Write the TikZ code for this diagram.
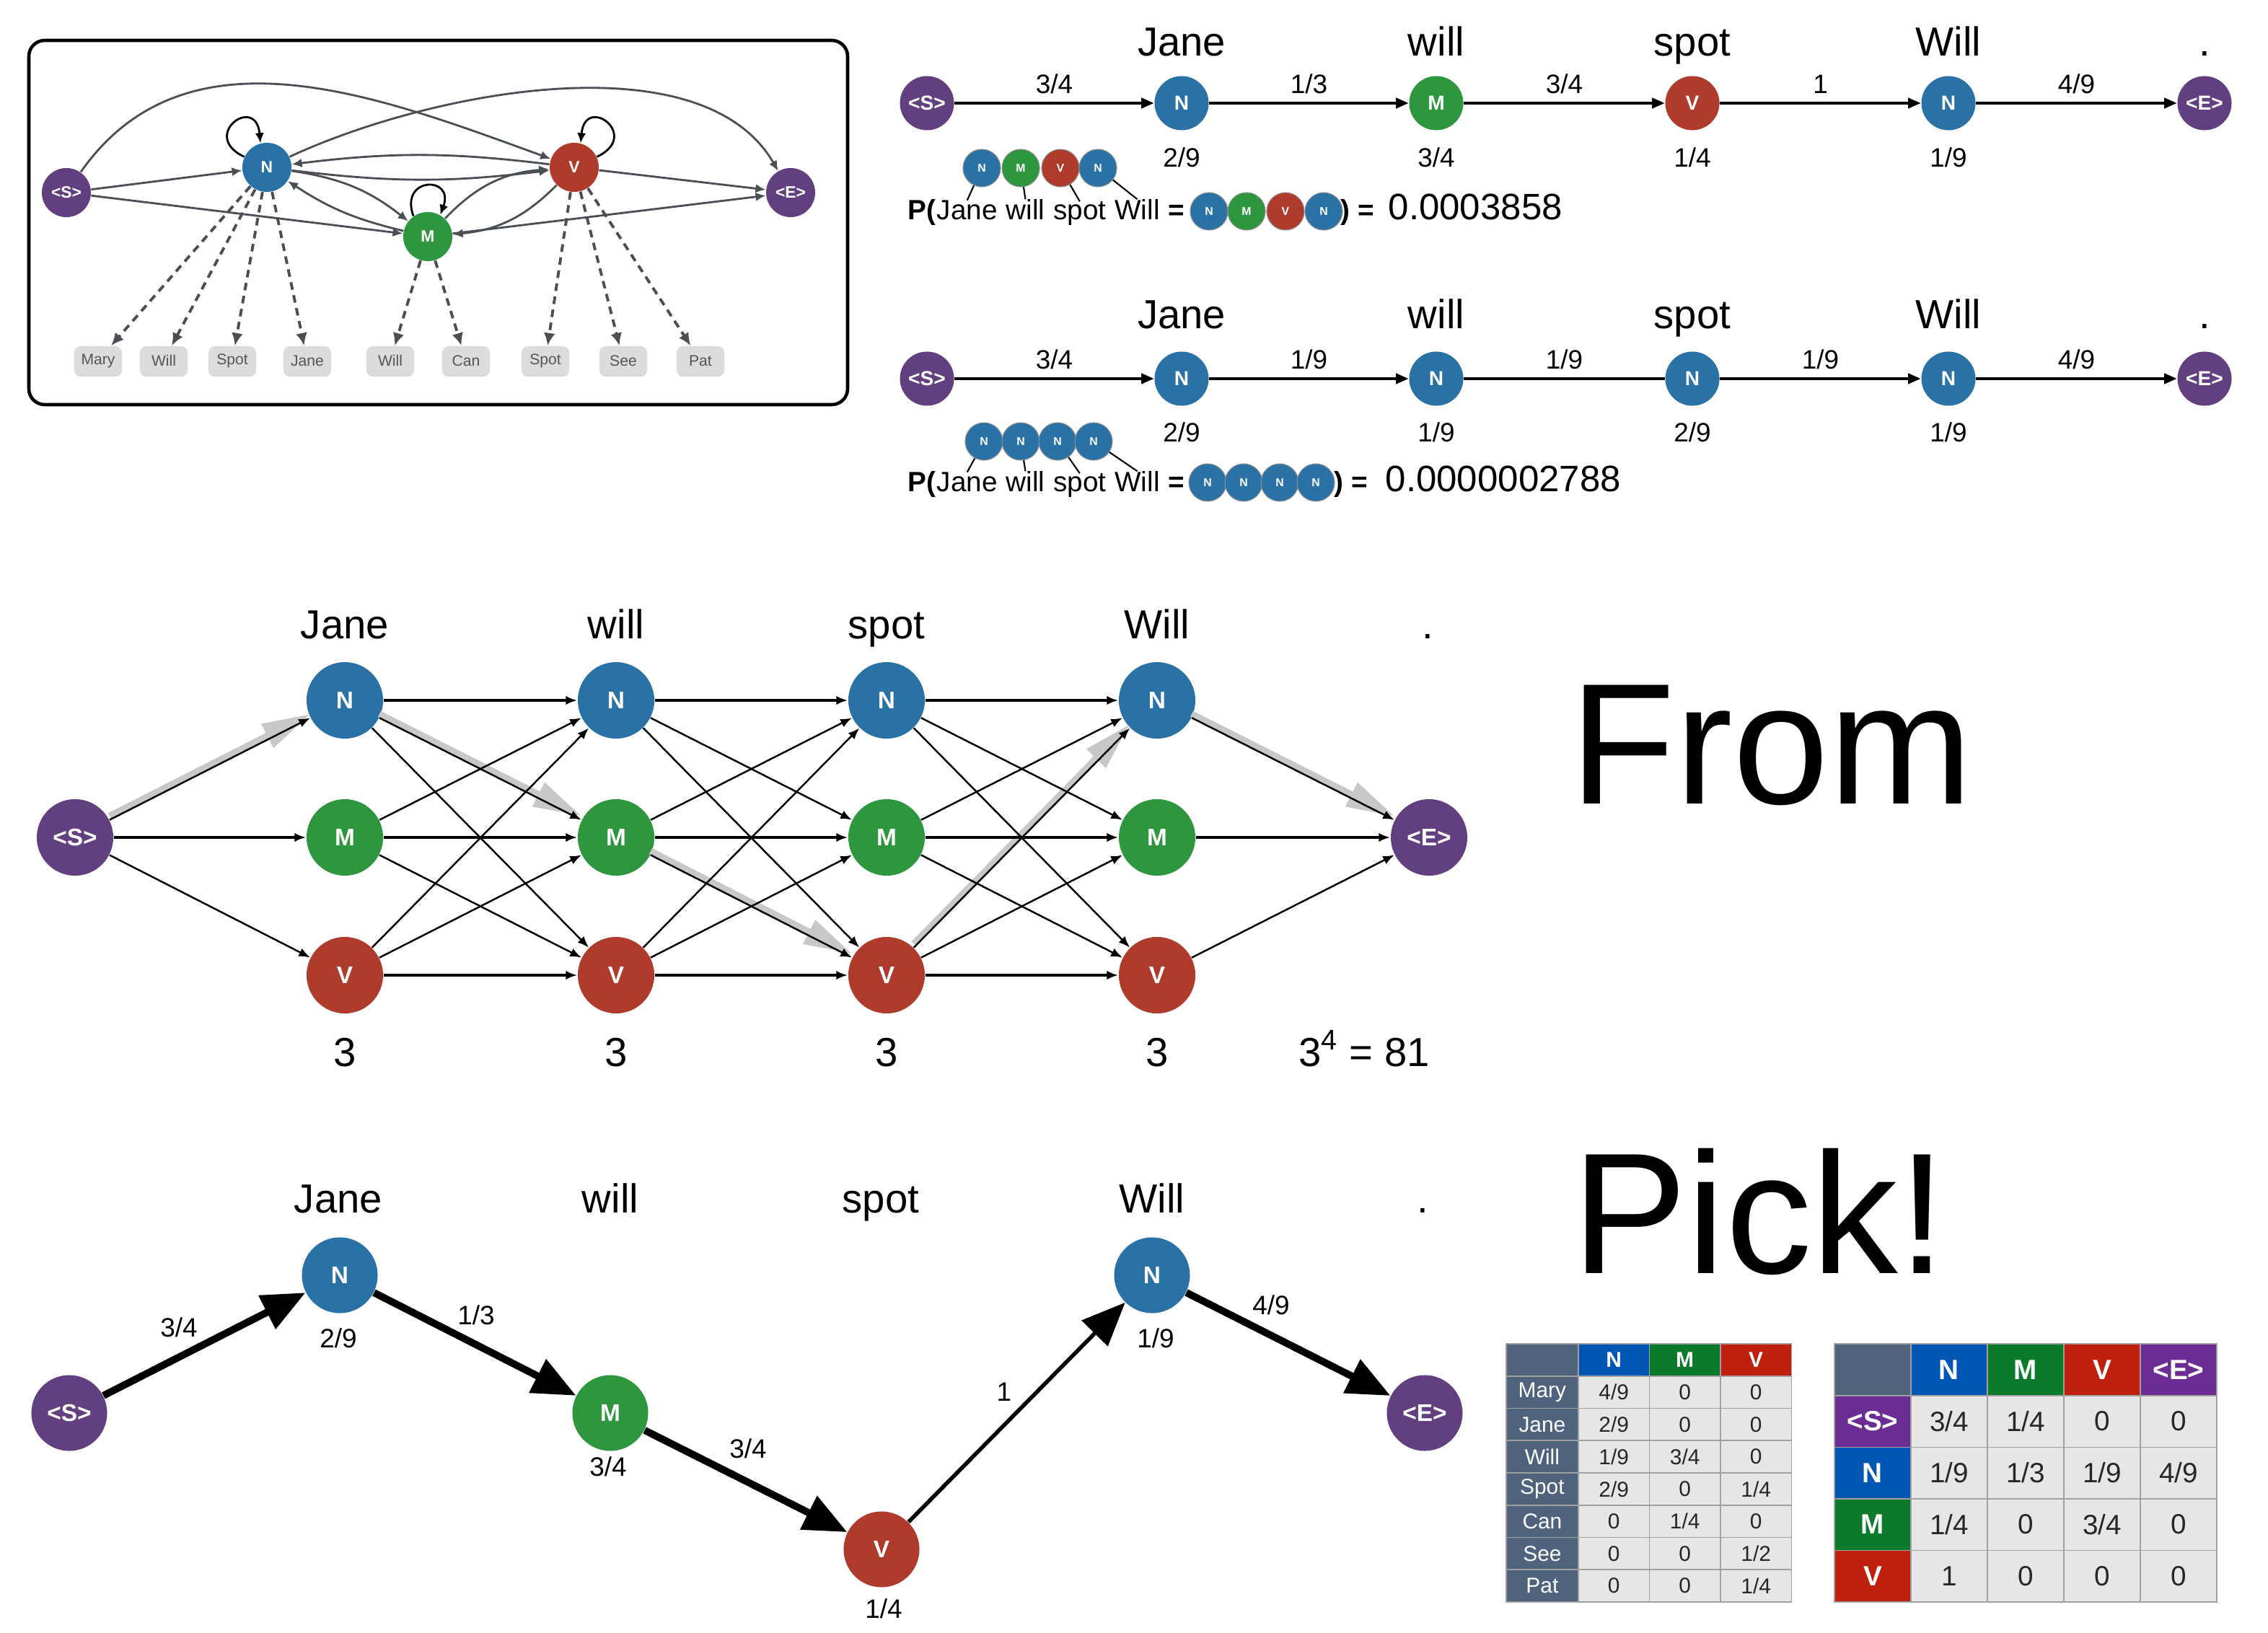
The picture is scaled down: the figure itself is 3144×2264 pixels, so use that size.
\documentclass[tikz,border=0pt]{standalone}
\usepackage{fontspec}
\setmainfont{Liberation Sans}
\usetikzlibrary{arrows.meta,positioning,shadows}

\definecolor{nblue}{RGB}{42,114,166}
\definecolor{mgreen}{RGB}{46,150,63}
\definecolor{vred}{RGB}{174,59,44}
\definecolor{epurple}{RGB}{98,64,127}
\definecolor{edgegray}{RGB}{74,79,85}
\definecolor{boxgray}{RGB}{220,220,220}
\definecolor{boxtext}{RGB}{85,85,85}
\definecolor{bestgray}{RGB}{200,200,200}
\definecolor{tslate}{RGB}{80,99,125}
\definecolor{tblue}{RGB}{0,86,179}
\definecolor{tgreen}{RGB}{11,122,43}
\definecolor{tred}{RGB}{191,32,13}
\definecolor{tpurple}{RGB}{107,45,147}
\definecolor{cellgray}{RGB}{230,230,230}
\definecolor{gridgray}{RGB}{160,160,160}

\tikzset{
  tag/.style={circle, inner sep=0pt, text=white, font=\bfseries},
  tagN/.style={tag, fill=nblue},
  tagM/.style={tag, fill=mgreen},
  tagV/.style={tag, fill=vred},
  tagSE/.style={tag, fill=epurple},
  word/.style={anchor=base, font=\fontsize{16}{18}\selectfont},
  prob/.style={anchor=base, font=\fontsize{10.5}{12}\selectfont},
  wordbox/.style={rectangle, rounded corners=2.5pt, fill=boxgray, text=boxtext,
    minimum width=0.66cm, minimum height=0.4cm, inner sep=1pt,
    font=\fontsize{6}{7}\selectfont,
    drop shadow={shadow xshift=0pt, shadow yshift=-0.6pt, opacity=0.3}},
  trans/.style={draw=edgegray, line width=0.8pt, -{Latex[length=4pt,width=3.5pt]}},
  emit/.style={draw=edgegray, line width=1.1pt, dash pattern=on 3pt off 2.2pt,
    -{Latex[length=5pt,width=4.5pt]}},
  selfloop/.style={draw=black, line width=0.8pt, -{Latex[length=4pt,width=3.5pt]}},
  chainedge/.style={draw=black, line width=1.1pt, -{Triangle[length=5pt,width=4pt]}},
  edgelab/.style={anchor=base, yshift=0.13cm, font=\fontsize{10.5}{12}\selectfont},
  fword/.style={anchor=base west, inner sep=0pt, font=\fontsize{11}{13}\selectfont},
  fnum/.style={anchor=base west, inner sep=0pt, font=\fontsize{14.5}{16}\selectfont},
  balltie/.style={draw=black, line width=0.6pt},
  tedge/.style={draw=black, line width=0.7pt, -{Latex[length=4.5pt,width=3.5pt]}},
  tflat/.style={tedge, line width=1.1pt},
  best/.style={draw=bestgray, line width=2.6pt, -{Triangle[length=19pt,width=10pt]}},
  pick/.style={draw=black, line width=0.1cm, -{Triangle[length=0.6cm,width=0.5cm]}},
  big/.style={anchor=base west, font=\fontsize{68}{70}\selectfont},
  tcell/.style={rectangle, anchor=north west, inner sep=0pt, draw=gridgray,
    line width=0.5pt, fill=cellgray, text=black!85},
  theadA/.style={tcell, minimum width=0.985cm, minimum height=0.45cm, text=white,
    font=\bfseries\fontsize{8.5}{10}\selectfont},
  tlabA/.style={tcell, fill=tslate, text=white, minimum width=1cm, minimum height=0.447cm,
    font=\fontsize{8.5}{10}\selectfont},
  tcellA/.style={tcell, minimum width=0.985cm, minimum height=0.447cm,
    font=\fontsize{8.5}{10}\selectfont},
  theadB/.style={tcell, minimum width=1.06cm, minimum height=0.72cm, text=white,
    font=\bfseries\fontsize{11}{13}\selectfont},
  tcellB/.style={tcell, minimum width=1.06cm, minimum height=0.715cm,
    font=\fontsize{11}{13}\selectfont}
}

\begin{document}
\begin{tikzpicture}[x=0.01cm, y=0.01cm]
\path[use as bounding box, fill=white] (0,0) rectangle (3144,-2264);

% the tag graph in its frame
\draw[line width=1.3pt, rounded corners=0.22cm] (40,-56) rectangle (1175,-561);
\begin{scope}[tag/.append style={minimum size=0.68cm, font=\bfseries\fontsize{6.5}{7}\selectfont}]
  \node[tagSE] (sS) at (92,-267) {<S>};
  \node[tagN] (sN) at (370,-232) {N};
  \node[tagM] (sM) at (593,-328) {M};
  \node[tagV] (sV) at (796,-232) {V};
  \node[tagSE] (sE) at (1096,-267) {<E>};
  \foreach \x/\w [count=\i] in {136/Mary,227/Will,322/Spot,426/Jane,541/Will,646/Can,756/Spot,864/See,971/Pat}
    \node[wordbox] (w\i) at (\x,-500) {\w};
  % emissions
  \foreach \s/\d in {sN/1,sN/2,sN/3,sN/4,sM/5,sM/6,sV/7,sV/8,sV/9}
    \draw[emit] (\s) -- (w\d);
  % transitions
  \draw[trans] (sS) -- (sN);
  \draw[trans] (sS) -- (sM);
  \draw[trans] (sS) to[out=55,in=160] (sV);
  \draw[trans] (sN) to[out=25,in=120,looseness=0.8] (sE);
  \draw[trans] (sN) to[bend right=7] (sV);
  \draw[trans] (sV) to[bend right=7] (sN);
  \draw[trans] (sN) to[bend left=15] (sM);
  \draw[trans] (sM) to[bend left=10] (sN);
  \draw[trans] (sM) to[bend left=21] (sV);
  \draw[trans] (sV) to[bend left=20] (sM);
  \draw[trans] (sM) -- (sE);
  \draw[trans] (sV) -- (sE);
  \draw[selfloop] (sN.155) to[out=155,in=95,looseness=6] (sN.105);
  \draw[selfloop] (sM.125) to[out=110,in=70,looseness=4] (sM.60);
  \draw[selfloop] (sV.25) to[out=25,in=85,looseness=6] (sV.75);
\end{scope}

% first tag sequence
\begin{scope}[tag/.append style={minimum size=0.75cm, font=\bfseries\fontsize{8}{9}\selectfont}]
  \foreach \x/\t/\s [count=\i from 0] in {1285/<S>/tagSE,1638/N/tagN,1991/M/tagM,2346/V/tagV,2701/N/tagN,3056/<E>/tagSE}
    \node[\s] (a\i) at (\x,-143) {\t};
  \foreach \x/\w [count=\i] in {1638/Jane,1991/will,2346/spot,2701/Will,3056/.}
    \node[word] (aw\i) at (\x,-78) {\w};
  \foreach \i/\j/\p in {0/1/{3/4},1/2/{1/3},2/3/{3/4},3/4/1,4/5/{4/9}}
    \draw[chainedge] (a\i) -- node[edgelab] (al\j) {\p} (a\j);
  \foreach \x/\p [count=\i] in {1638/{2/9},1991/{3/4},2346/{1/4},2701/{1/9}}
    \node[prob] (ae\i) at (\x,-232) {\p};
\end{scope}
\begin{scope}[tag/.append style={minimum size=0.52cm, draw=black!45, line width=0.3pt, font=\bfseries\fontsize{4.5}{5}\selectfont}]
  \foreach \x/\t/\s [count=\i] in {1361/N/tagN,1415/M/tagM,1470/V/tagV,1522/N/tagN}
    \node[\s] (ak\i) at (\x,-233) {\t};
  \foreach \x/\t/\s [count=\i] in {1676/N/tagN,1728/M/tagM,1782/V/tagV,1835/N/tagN}
    \node[\s] (af\i) at (\x,-293) {\t};
\end{scope}
\node[fword] (ap0) at (1258,-305) {\textbf{P(}};
\foreach \w/\g [count=\i, evaluate=\i as \k using int(\i-1)] in {Jane/0pt,will/3pt,spot/3pt,Will/3pt,\textbf{=}/3pt}
  \node[fword, xshift=\g] (ap\i) at (ap\k.base east) {\w};
\foreach \i in {1,...,4}
  \draw[balltie] (ak\i) -- (ap\i.north);
\node[fword] (apc) at (1858,-305) {\textbf{) =}};
\node[fnum] (apv) at (1924,-305) {0.0003858};

% second tag sequence
\begin{scope}[tag/.append style={minimum size=0.75cm, font=\bfseries\fontsize{8}{9}\selectfont}]
  \foreach \x/\t/\s [count=\i from 0] in {1285/<S>/tagSE,1638/N/tagN,1991/N/tagN,2346/N/tagN,2701/N/tagN,3056/<E>/tagSE}
    \node[\s] (b\i) at (\x,-525) {\t};
  \foreach \x/\w [count=\i] in {1638/Jane,1991/will,2346/spot,2701/Will,3056/.}
    \node[word] (bw\i) at (\x,-456) {\w};
  \foreach \i/\j/\p in {0/1/{3/4},1/2/{1/9},3/4/{1/9},4/5/{4/9}}
    \draw[chainedge] (b\i) -- node[edgelab] (bl\j) {\p} (b\j);
  \draw[chainedge, -] (b2) -- node[edgelab] (bl3) {1/9} (b3);
  \foreach \x/\p [count=\i] in {1638/{2/9},1991/{1/9},2346/{2/9},2701/{1/9}}
    \node[prob] (be\i) at (\x,-613) {\p};
\end{scope}
\begin{scope}[tag/.append style={minimum size=0.52cm, draw=black!45, line width=0.3pt, font=\bfseries\fontsize{4.5}{5}\selectfont}]
  \foreach \x [count=\i] in {1364,1415,1466,1516}
    \node[tagN] (bk\i) at (\x,-612) {N};
  \foreach \x [count=\i] in {1674,1724,1774,1824}
    \node[tagN] (bf\i) at (\x,-669) {N};
\end{scope}
\node[fword] (bp0) at (1258,-682) {\textbf{P(}};
\foreach \w/\g [count=\i, evaluate=\i as \k using int(\i-1)] in {Jane/0pt,will/3pt,spot/3pt,Will/3pt,\textbf{=}/3pt}
  \node[fword, xshift=\g] (bp\i) at (bp\k.base east) {\w};
\foreach \i in {1,...,4}
  \draw[balltie] (bk\i) -- (bp\i.north);
\node[fword] (bpc) at (1849,-682) {\textbf{) =}};
\node[fnum] (bpv) at (1920,-682) {0.0000002788};

% trellis of all tag paths
\begin{scope}[tag/.append style={minimum size=1.06cm, font=\bfseries\fontsize{9.5}{10}\selectfont}]
  \node[tagSE] (tS) at (104,-1161) {<S>};
  \node[tagSE] (tE) at (1981,-1161) {<E>};
  \foreach \x [count=\c] in {478,854,1229,1604} {
    \node[tagN] (tN\c) at (\x,-971) {N};
    \node[tagM] (tM\c) at (\x,-1161) {M};
    \node[tagV] (tV\c) at (\x,-1352) {V};
    \node[word] (tc\c) at (\x,-1478) {3};
  }
  \foreach \x/\w [count=\i] in {478/Jane,854/will,1229/spot,1604/Will,1979/.}
    \node[word] (tw\i) at (\x,-885) {\w};
  \node[word] (tpow) at (1891,-1478) {3\textsuperscript{4} = 81};
  % the best path, under the others
  \foreach \a/\b in {tS/tN1,tN1/tM2,tM2/tV3,tV3/tN4,tN4/tE}
    \draw[best, transform canvas={yshift=1.5pt}] (\a) -- (\b);
  \foreach \q in {N,V} \draw[tedge] (tS) -- (t\q1);
  \draw[tflat] (tS) -- (tM1);
  \foreach \c/\d in {1/2,2/3,3/4}
    \foreach \p in {N,M,V}
      \foreach \q in {N,M,V} {
        \ifx\p\q \draw[tflat] (t\p\c) -- (t\q\d);
        \else \draw[tedge] (t\p\c) -- (t\q\d); \fi
      }
  \foreach \q in {N,V} \draw[tedge] (t\q4) -- (tE);
  \draw[tflat] (tM4) -- (tE);
\end{scope}

% the picked path
\begin{scope}[tag/.append style={minimum size=1.05cm, font=\bfseries\fontsize{9.5}{10}\selectfont}]
  \node[tagSE] (pS) at (96,-1959) {<S>};
  \node[tagN] (pN1) at (471,-1768) {N};
  \node[tagM] (pM) at (846,-1959) {M};
  \node[tagV] (pV) at (1222,-2148) {V};
  \node[tagN] (pN2) at (1597,-1768) {N};
  \node[tagSE] (pE) at (1975,-1959) {<E>};
  \foreach \x/\w [count=\i] in {469/Jane,846/will,1221/spot,1597/Will,1972/.}
    \node[word] (pw\i) at (\x,-1681) {\w};
  \draw[pick] (pS) -- (pN1);
  \draw[pick] (pN1) -- (pM);
  \draw[pick] (pM) -- (pV);
  \draw[pick, line width=0.055cm] (pV) -- (pN2);
  \draw[pick] (pN2) -- (pE);
  \foreach \x/\y/\p [count=\i] in {248/1853/{3/4},660/1836/{1/3},1037/2021/{3/4},1392/1942/1,1762/1822/{4/9}}
    \node[prob] (pl\i) at (\x,-\y) {\p};
  \foreach \x/\y/\p [count=\i] in {469/1868/{2/9},843/2046/{3/4},1225/2243/{1/4},1602/1868/{1/9}}
    \node[prob] (pe\i) at (\x,-\y) {\p};
\end{scope}

\node[big] (from) at (2164,-1114) {From};
\node[big] (pickit) at (2167,-1765) {Pick!};

% emission table
\node[theadA, fill=tslate, minimum width=1cm] (ea-0-0) at (2087,-1862) {};
\foreach \h/\cl [count=\c] in {N/tblue,M/tgreen,V/tred}
  \node[theadA, fill=\cl] (ea-0-\c) at ({2187+98.5*(\c-1)},-1862) {\h};
\foreach \w/\va/\vb/\vc [count=\r] in {Mary/{4/9}/0/0,Jane/{2/9}/0/0,Will/{1/9}/{3/4}/0,Spot/{2/9}/0/{1/4},Can/0/{1/4}/0,See/0/0/{1/2},Pat/0/0/{1/4}} {
  \node[tlabA] (ea-\r-0) at (2087,{-1907-44.7*(\r-1)}) {\w};
  \node[tcellA] (ea-\r-1) at (2187,{-1907-44.7*(\r-1)}) {\va};
  \node[tcellA] (ea-\r-2) at (2285.5,{-1907-44.7*(\r-1)}) {\vb};
  \node[tcellA] (ea-\r-3) at (2384,{-1907-44.7*(\r-1)}) {\vc};
}

% transition table
\node[theadB, fill=tslate] (eb-0-0) at (2542,-1862) {};
\foreach \h/\cl [count=\c] in {N/tblue,M/tgreen,V/tred,<E>/tpurple}
  \node[theadB, fill=\cl] (eb-0-\c) at ({2542+106*\c},-1862) {\h};
\foreach \h/\cl/\va/\vb/\vc/\vd [count=\r] in {<S>/tpurple/{3/4}/{1/4}/0/0,N/tblue/{1/9}/{1/3}/{1/9}/{4/9},M/tgreen/{1/4}/0/{3/4}/0,V/tred/1/0/0/0} {
  \node[tcellB, fill=\cl, text=white, font=\bfseries\fontsize{11}{13}\selectfont] (eb-\r-0) at (2542,{-1934-71.5*(\r-1)}) {\h};
  \node[tcellB] (eb-\r-1) at (2648,{-1934-71.5*(\r-1)}) {\va};
  \node[tcellB] (eb-\r-2) at (2754,{-1934-71.5*(\r-1)}) {\vb};
  \node[tcellB] (eb-\r-3) at (2860,{-1934-71.5*(\r-1)}) {\vc};
  \node[tcellB] (eb-\r-4) at (2966,{-1934-71.5*(\r-1)}) {\vd};
}
\end{tikzpicture}
\end{document}
